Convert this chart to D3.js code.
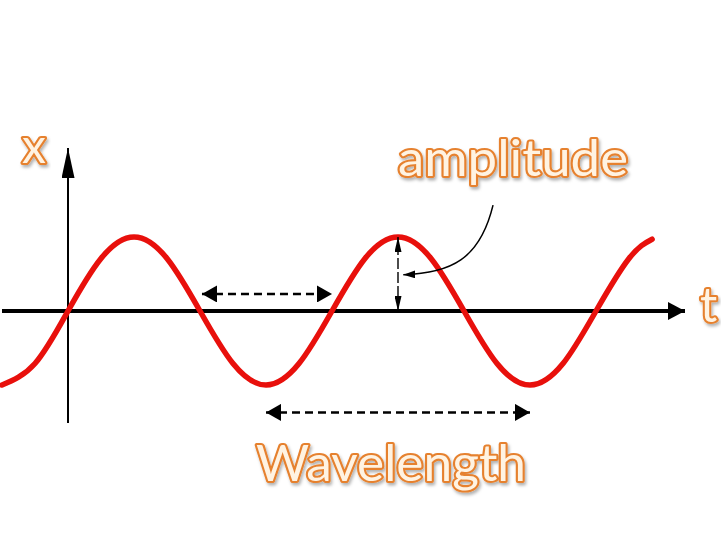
<!DOCTYPE html>
<html>
  <head>
    <script src="https://d3js.org/d3.v7.min.js"></script>
    <style>
      body { margin: 0; background: #fff; }
      .label {
        font-family: Lato, "Open Sans", sans-serif;
        font-weight: 400;
        fill: #fff3e2;
        stroke: #e6812f;
        stroke-width: 4.2;
        stroke-linejoin: round;
        paint-order: stroke;
        filter: url(#glow);
      }
    </style>
  </head>
  <body>
    <svg id="wave" width="728" height="546"></svg>
    <script>
      // wave: t in quarter periods, x in amplitudes
      const tValues = [-1, -0.5, 0, 0.5, 1, 1.5, 2, 2.5, 3, 3.5, 4, 4.5, 5, 5.5, 6, 6.5, 7, 7.5, 8, 8.5, 8.85];
      const xValues = [-1, -0.71, 0, 0.71, 1, 0.71, 0, -0.71, -1, -0.71, 0, 0.71, 1, 0.71, 0, -0.71, -1, -0.71, 0, 0.71, 0.97];

      // annotation arrows [t1, x1, t2, x2]
      const halfArrow = [2.03, 0.23, 4, 0.23];
      const waveArrow = [3, -1.37, 7, -1.37];
      const ampArrow = [5, 0, 5, 1];
      const leader = [[6.44, 1.43], [6.24, 0.69], [5.79, 0.51], [5.08, 0.49]];

      const labels = ["x", "t", "amplitude", "Wavelength"];

      const svg = d3.select("#wave");
      const tScale = d3.scaleLinear().domain([-1, 9]).range([2, 662]);
      const xScale = d3.scaleLinear().domain([-1, 1]).range([385, 237]);

      const defs = svg.append("defs");
      const glow = defs.append("filter").attr("id", "glow")
        .attr("x", "-20%").attr("y", "-20%").attr("width", "140%").attr("height", "150%");
      glow.append("feDropShadow").attr("dx", 1.5).attr("dy", 2.5)
        .attr("stdDeviation", 1.8).attr("flood-color", "#000").attr("flood-opacity", 0.3);

      const addMarker = function(id, len, half, orient) {
        defs.append("marker").attr("id", id)
          .attr("markerUnits", "userSpaceOnUse")
          .attr("viewBox", `0 ${-half} ${len} ${half * 2}`)
          .attr("refX", len).attr("refY", 0)
          .attr("markerWidth", len).attr("markerHeight", half * 2)
          .attr("orient", orient)
          .append("path")
          .attr("d", `M0,${-half}L${len},0L0,${half}Z`)
          .attr("fill", "black");
      };
      addMarker("bigHead", 15, 8.5, "auto-start-reverse");
      addMarker("tHead", 17, 9, "auto");
      addMarker("xHead", 30, 6.5, "auto");
      addMarker("smallHead", 15, 3.5, "auto-start-reverse");
      addMarker("leadHead", 12, 4, "auto");

      // axes
      svg.append("line")
        .attr("x1", tScale(0)).attr("x2", tScale(0))
        .attr("y1", 423).attr("y2", 148)
        .attr("stroke", "black").attr("stroke-width", 2)
        .attr("marker-end", "url(#xHead)");
      svg.append("line")
        .attr("x1", tScale(-1)).attr("x2", 685)
        .attr("y1", xScale(0)).attr("y2", xScale(0))
        .attr("stroke", "black").attr("stroke-width", 4)
        .attr("marker-end", "url(#tHead)");

      // the wave
      const line = d3.line()
        .x((d, i) => tScale(tValues[i]))
        .y(d => xScale(d))
        .curve(d3.curveNatural);
      svg.append("path")
        .attr("d", line(xValues))
        .attr("fill", "none")
        .attr("stroke", "#e8100c")
        .attr("stroke-width", 5.5)
        .attr("stroke-linecap", "round");

      // dashed arrows
      [halfArrow, waveArrow].forEach(a => {
        svg.append("line")
          .attr("x1", tScale(a[0])).attr("y1", xScale(a[1]))
          .attr("x2", tScale(a[2])).attr("y2", xScale(a[3]))
          .attr("stroke", "black").attr("stroke-width", 2.5)
          .attr("stroke-dasharray", "8,5")
          .attr("marker-start", "url(#bigHead)")
          .attr("marker-end", "url(#bigHead)");
      });
      svg.append("line")
        .attr("x1", tScale(ampArrow[0])).attr("y1", xScale(ampArrow[1]))
        .attr("x2", tScale(ampArrow[2])).attr("y2", xScale(ampArrow[3]))
        .attr("stroke", "black").attr("stroke-width", 1.4)
        .attr("stroke-dasharray", "11,3")
        .attr("marker-start", "url(#smallHead)")
        .attr("marker-end", "url(#smallHead)");

      // leader from the amplitude label
      const p = d3.path();
      p.moveTo(tScale(leader[0][0]), xScale(leader[0][1]));
      p.bezierCurveTo(tScale(leader[1][0]), xScale(leader[1][1]),
                      tScale(leader[2][0]), xScale(leader[2][1]),
                      tScale(leader[3][0]), xScale(leader[3][1]));
      svg.append("path")
        .attr("d", p.toString())
        .attr("fill", "none")
        .attr("stroke", "black").attr("stroke-width", 1.5)
        .attr("marker-end", "url(#leadHead)");

      // labels
      svg.append("text").attr("class", "label")
        .attr("x", 22).attr("y", 163).attr("font-size", 48)
        .text(labels[0]);
      svg.append("text").attr("class", "label")
        .attr("x", 700).attr("y", 322).attr("font-size", 48)
        .text(labels[1]);
      svg.append("text").attr("class", "label")
        .attr("x", 398).attr("y", 176).attr("font-size", 50)
        .attr("textLength", 230).attr("lengthAdjust", "spacingAndGlyphs")
        .text(labels[2]);
      svg.append("text").attr("class", "label")
        .attr("x", 256).attr("y", 481).attr("font-size", 50)
        .attr("textLength", 270).attr("lengthAdjust", "spacingAndGlyphs")
        .text(labels[3]);
    </script>
  </body>
</html>
